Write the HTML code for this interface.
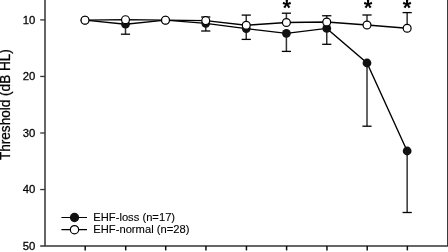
<!DOCTYPE html><html><head><meta charset="utf-8"><style>html,body{margin:0;padding:0;background:#fff}svg{display:block}text{font-family:"Liberation Sans",Arial,sans-serif;fill:#000}</style></head><body>
<svg width="448" height="252" viewBox="0 0 448 252">
<rect width="448" height="252" fill="#fff"/>
<g stroke="#333" stroke-width="1.5" fill="none">
<path d="M45.0 0V245.9M40.2 245.9H448M447.8 0V246.70000000000002"/>
<path stroke-width="1.3" d="M40.2 19.9H45.0"/>
<path stroke-width="1.3" d="M40.2 76.45H45.0"/>
<path stroke-width="1.3" d="M40.2 133.0H45.0"/>
<path stroke-width="1.3" d="M40.2 189.55H45.0"/>
</g>
<g stroke="#111" stroke-width="1.5" fill="none">
<path d="M85.2 245.9V250.4"/>
<path d="M125.7 245.9V250.4"/>
<path d="M165.7 245.9V250.4"/>
<path d="M205.95 245.9V250.4"/>
<path d="M246.45 245.9V250.4"/>
<path d="M286.59999999999997 245.9V250.4"/>
<path d="M326.95 245.9V250.4"/>
<path d="M367.2 245.9V250.4"/>
<path d="M407.34999999999997 245.9V250.4"/>
</g>
<text transform="translate(35.3,23.599999999999998) scale(1.09,1)" font-size="10.4" text-anchor="end" stroke="#000" stroke-width="0.25">10</text>
<text transform="translate(35.3,80.15) scale(1.09,1)" font-size="10.4" text-anchor="end" stroke="#000" stroke-width="0.25">20</text>
<text transform="translate(35.3,136.7) scale(1.09,1)" font-size="10.4" text-anchor="end" stroke="#000" stroke-width="0.25">30</text>
<text transform="translate(35.3,193.25) scale(1.09,1)" font-size="10.4" text-anchor="end" stroke="#000" stroke-width="0.25">40</text>
<text transform="translate(35.3,249.6) scale(1.09,1)" font-size="10.4" text-anchor="end" stroke="#000" stroke-width="0.25">50</text>
<text transform="translate(9.9,160.1) rotate(-90) scale(1,1.04)" font-size="13.6" stroke="#000" stroke-width="0.25">Threshold (dB HL)</text>
<g stroke="#333" stroke-width="1.5" fill="none">
<path d="M125.5 24.2V34.2"/>
<path d="M205.75 23.3V31"/>
<path d="M246.25 28.6V39.4"/>
<path d="M286.4 33.3V51.4"/>
<path d="M326.75 28.4V44.3"/>
<path d="M367.0 63.0V126.2"/>
<path d="M407.15 151V212.5"/>
</g>
<g stroke="#000" stroke-width="1.3" fill="none">
<path d="M120.9 34.2H130.1"/>
<path d="M201.15 31H210.35"/>
<path d="M241.65 39.4H250.85"/>
<path d="M281.79999999999995 51.4H291.0"/>
<path d="M322.15 44.3H331.35"/>
<path d="M362.4 126.2H371.6"/>
<path d="M402.54999999999995 212.5H411.75"/>
<polyline stroke-width="1.35" points="85,20.2 125.5,24.2 165.5,20.2 205.75,23.3 246.25,28.6 286.4,33.3 326.75,28.4 367.0,63.0 407.15,151"/>
</g>
<circle cx="85" cy="20.2" r="4.4" fill="#111"/>
<circle cx="125.5" cy="24.2" r="4.4" fill="#111"/>
<circle cx="165.5" cy="20.2" r="4.4" fill="#111"/>
<circle cx="205.75" cy="23.3" r="4.4" fill="#111"/>
<circle cx="246.25" cy="28.6" r="4.4" fill="#111"/>
<circle cx="286.4" cy="33.3" r="4.4" fill="#111"/>
<circle cx="326.75" cy="28.4" r="4.4" fill="#111"/>
<circle cx="367.0" cy="63.0" r="4.4" fill="#111"/>
<circle cx="407.15" cy="151" r="4.4" fill="#111"/>
<g stroke="#333" stroke-width="1.5" fill="none">
<path d="M205.75 20.6V17.0"/>
<path d="M246.25 25.25V15.1"/>
<path d="M286.4 22.5V13.2"/>
<path d="M326.75 22V15.75"/>
<path d="M367.0 25V15"/>
<path d="M407.15 28.25V12.6"/>
</g>
<g stroke="#000" stroke-width="1.3" fill="none">
<path d="M201.15 17.0H210.35"/>
<path d="M241.65 15.1H250.85"/>
<path d="M281.79999999999995 13.2H291.0"/>
<path d="M322.15 15.75H331.35"/>
<path d="M362.4 15H371.6"/>
<path d="M402.54999999999995 12.6H411.75"/>
<polyline stroke-width="1.35" points="85,20.2 125.5,19.7 165.5,20.2 205.75,20.6 246.25,25.25 286.4,22.5 326.75,22 367.0,25 407.15,28.25"/>
</g>
<circle cx="85" cy="20.2" r="3.95" fill="#fff" stroke="#000" stroke-width="1.2"/>
<circle cx="125.5" cy="19.7" r="3.95" fill="#fff" stroke="#000" stroke-width="1.2"/>
<circle cx="165.5" cy="20.2" r="3.95" fill="#fff" stroke="#000" stroke-width="1.2"/>
<circle cx="205.75" cy="20.6" r="3.95" fill="#fff" stroke="#000" stroke-width="1.2"/>
<circle cx="246.25" cy="25.25" r="3.95" fill="#fff" stroke="#000" stroke-width="1.2"/>
<circle cx="286.4" cy="22.5" r="3.95" fill="#fff" stroke="#000" stroke-width="1.2"/>
<circle cx="326.75" cy="22" r="3.95" fill="#fff" stroke="#000" stroke-width="1.2"/>
<circle cx="367.0" cy="25" r="3.95" fill="#fff" stroke="#000" stroke-width="1.2"/>
<circle cx="407.15" cy="28.25" r="3.95" fill="#fff" stroke="#000" stroke-width="1.2"/>
<text x="286.9" y="14.9" font-size="22" font-weight="bold" text-anchor="middle">*</text>
<text x="368" y="14.9" font-size="22" font-weight="bold" text-anchor="middle">*</text>
<text x="407.0" y="14.9" font-size="22" font-weight="bold" text-anchor="middle">*</text>
<g stroke="#000" stroke-width="1.2"><path d="M61.4 217.5H87M61.4 229.7H87"/></g>
<circle cx="74.5" cy="217.5" r="4.65" fill="#111"/>
<circle cx="74.5" cy="229.7" r="4.15" fill="#fff" stroke="#000" stroke-width="1.2"/>
<text transform="translate(93.3,220.6) scale(1.12,1)" font-size="10" stroke="#000" stroke-width="0.1">EHF-loss (n=17)</text>
<text transform="translate(93.3,233.0) scale(1.12,1)" font-size="10" stroke="#000" stroke-width="0.1">EHF-normal (n=28)</text>
</svg></body></html>
